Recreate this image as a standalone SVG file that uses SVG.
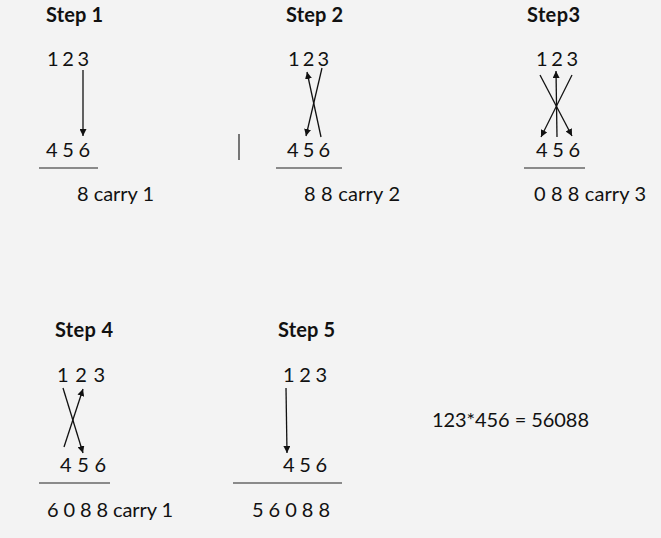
<svg xmlns="http://www.w3.org/2000/svg" width="661" height="538" viewBox="0 0 661 538">
<defs>
<style>
.h{font-family:Lato,"Open Sans","Liberation Sans",sans-serif;font-weight:bold;font-size:20px;fill:#111}
.t{font-family:Lato,"Open Sans","Liberation Sans",sans-serif;font-size:20px;fill:#111}
.c{stroke:#111;stroke-width:1.3;fill:none;marker-end:url(#ah)}
.r{stroke:#222;stroke-width:1.2}
</style>
<marker id="ah" viewBox="0 0 10 10" refX="10" refY="5" markerWidth="7" markerHeight="7" markerUnits="userSpaceOnUse" orient="auto">
<path d="M0,0 L10,5 L0,10 z" fill="#111"/>
</marker>
</defs>
<rect width="661" height="538" fill="#f3f3f3"/>
<g id="step1">
<text class="h" x="46" y="22" textLength="57">Step 1</text>
<text class="t" x="47" y="66" textLength="42">1 2 3</text>
<text class="t" x="46" y="157" textLength="44">4 5 6</text>
<line class="r" x1="39" y1="168" x2="98" y2="168"/>
<text class="t" x="77" y="201" textLength="77">8 carry 1</text>
</g>
<g id="step2">
<text class="h" x="286" y="22" textLength="57">Step 2</text>
<text class="t" x="288" y="66" textLength="41">1 2 3</text>
<text class="t" x="287" y="157" textLength="43">4 5 6</text>
<line class="r" x1="276" y1="168" x2="342" y2="168"/>
<text class="t" x="304" y="201" textLength="96">8 8 carry 2</text>
<line class="r" x1="239" y1="134" x2="239" y2="160" stroke-width="2"/>
</g>
<g id="step3">
<text class="h" x="527" y="22" textLength="53">Step3</text>
<text class="t" x="536" y="66" textLength="42">1 2 3</text>
<text class="t" x="536" y="157" textLength="44">4 5 6</text>
<line class="r" x1="524" y1="168" x2="585" y2="168"/>
<text class="t" x="534" y="201" textLength="112">0 8 8 carry 3</text>
</g>
<g id="step4">
<text class="h" x="55" y="337" textLength="58">Step 4</text>
<text class="t" x="57" y="382" textLength="48">1 2 3</text>
<text class="t" x="60" y="472" textLength="46">4 5 6</text>
<line class="r" x1="39" y1="483" x2="110" y2="483"/>
<text class="t" x="47" y="517" textLength="126">6 0 8 8 carry 1</text>
</g>
<g id="step5">
<text class="h" x="278" y="337" textLength="57">Step 5</text>
<text class="t" x="283" y="382" textLength="44">1 2 3</text>
<text class="t" x="283" y="472" textLength="44">4 5 6</text>
<line class="r" x1="233" y1="483" x2="342" y2="483"/>
<text class="t" x="252" y="517" textLength="78">5 6 0 8 8</text>
</g>
<g id="result">
<text class="t" x="432" y="427" textLength="157">123*456 = 56088</text>
</g>
<g id="connectors">
<line class="c" x1="83" y1="70" x2="83" y2="136"/>
<line class="c" x1="322" y1="68" x2="306" y2="136"/>
<line class="c" x1="321" y1="137" x2="307" y2="72"/>
<line class="c" x1="540" y1="75" x2="572" y2="136"/>
<line class="c" x1="572" y1="75" x2="541" y2="137"/>
<line class="c" x1="557" y1="137" x2="556" y2="71"/>
<line class="c" x1="63" y1="388" x2="83" y2="453"/>
<line class="c" x1="64" y1="447" x2="83" y2="389"/>
<line class="c" x1="286" y1="388" x2="287" y2="453"/>
</g>
</svg>
